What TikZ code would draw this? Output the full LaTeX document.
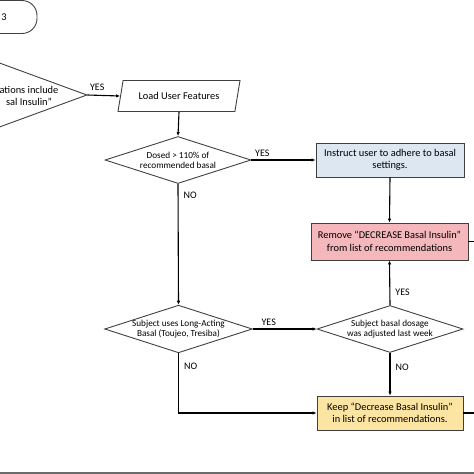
\documentclass[tikz,border=0pt]{standalone}
\usepackage{fontspec}
\setmainfont{Carlito}
\usetikzlibrary{shapes.geometric, arrows.meta}
\definecolor{blue}{HTML}{DDE7F2}
\definecolor{red}{HTML}{F4B8BC}
\definecolor{yellow}{HTML}{FCE4A2}
\definecolor{edge}{HTML}{404040}

\begin{document}
\begin{tikzpicture}
  [x=1pt, y=-1pt,
   action box/.style={draw=edge, line width=0.9pt, fill=#1, inner sep=0pt, align=center, font=\fontsize{10.4}{12.5}\selectfont},
   decision/.style={draw=edge, line width=0.9pt, diamond, aspect=3.1, inner sep=0pt, minimum width=146pt, minimum height=47pt, align=center, font=\fontsize{9.2}{9.8}\selectfont},
   flow/.style={line width=1.1pt, -{Latex[length=4pt, width=3.5pt]}},
   answer/.style={font=\fontsize{10}{12}\selectfont, inner sep=1pt}]

  \useasboundingbox (0,0) rectangle (474,474);
  \begin{scope}
  \clip (0,0) rectangle (474,474);

  \node [draw=edge, line width=0.9pt, rounded corners=15pt, minimum width=100pt, minimum height=33pt] (start) at (-13,17) {};
  \node [font=\fontsize{10.4}{12.5}\selectfont, inner sep=0pt] (start text) at (4,17) {3};

  \node [decision, minimum width=174pt, minimum height=64pt] (recs) at (0,95) {};
  \node [align=center, font=\fontsize{10.4}{12.5}\selectfont] (recs text) at (29,96) {ations include\\sal Insulin”};

  \node [draw=edge, line width=0.9pt, trapezium, trapezium left angle=55, trapezium right angle=125, trapezium stretches body, minimum width=122pt, minimum height=31pt, inner sep=0pt, font=\fontsize{10.4}{12.5}\selectfont] (load) at (179,96) {Load User Features};

  \node [decision] (dosed) at (178,160) {Dosed > 110\% of\\recommended basal};
  \node [action box = blue, minimum width=148pt, minimum height=34pt] (instruct) at (390,160) {Instruct user to adhere to basal\\settings.};
  \node [action box = red, minimum width=157pt, minimum height=37pt] (remove) at (389.5,241.5) {Remove “DECREASE Basal Insulin”\\from list of recommendations};

  \node [decision] (long acting) at (178.5,329) {Subject uses Long-Acting\\Basal (Toujeo, Tresiba)};
  \node [decision] (adjusted) at (390,329) {Subject basal dosage\\was adjusted last week};
  \node [action box = yellow, minimum width=146pt, minimum height=34pt] (keep) at (390,413) {Keep “Decrease Basal Insulin”\\in list of recommendations.};

  \coordinate (remove out) at (474,241.5);
  \coordinate (keep out) at (474,413);

  \draw [flow] (recs.east) -- node [answer, pos=0.3, above=3pt] {YES} (load.west);
  \draw [flow] (load.south) -- (dosed.north);
  \draw [flow] (dosed.east) -- node [answer, pos=0.17, above=2pt] {YES} (instruct.west);
  \draw [flow] (instruct.south) -- (remove.north);
  \draw [flow] (dosed.south) -- node [answer, pos=0.09, right=4pt] {NO} (long acting.north);
  \draw [flow] (long acting.east) -- node [answer, pos=0.25, above=2pt] {YES} (adjusted.west);
  \draw [flow] (adjusted.north) -- node [answer, pos=0.29, right=4pt] {YES} (remove.south);
  \draw [flow] (adjusted.south) -- node [answer, pos=0.34, right=4pt] {NO} (keep.north);
  \draw [flow] (long acting.south) |- node [answer, pos=0.11, right=4pt] {NO} (keep.west);
  \draw [line width=1.1pt] (remove.east) -- (remove out);
  \draw [line width=1.1pt] (keep.east) -- (keep out);

  \fill [black!58] (0,472) rectangle (474,474);
  \end{scope}

\end{tikzpicture}
\end{document}
